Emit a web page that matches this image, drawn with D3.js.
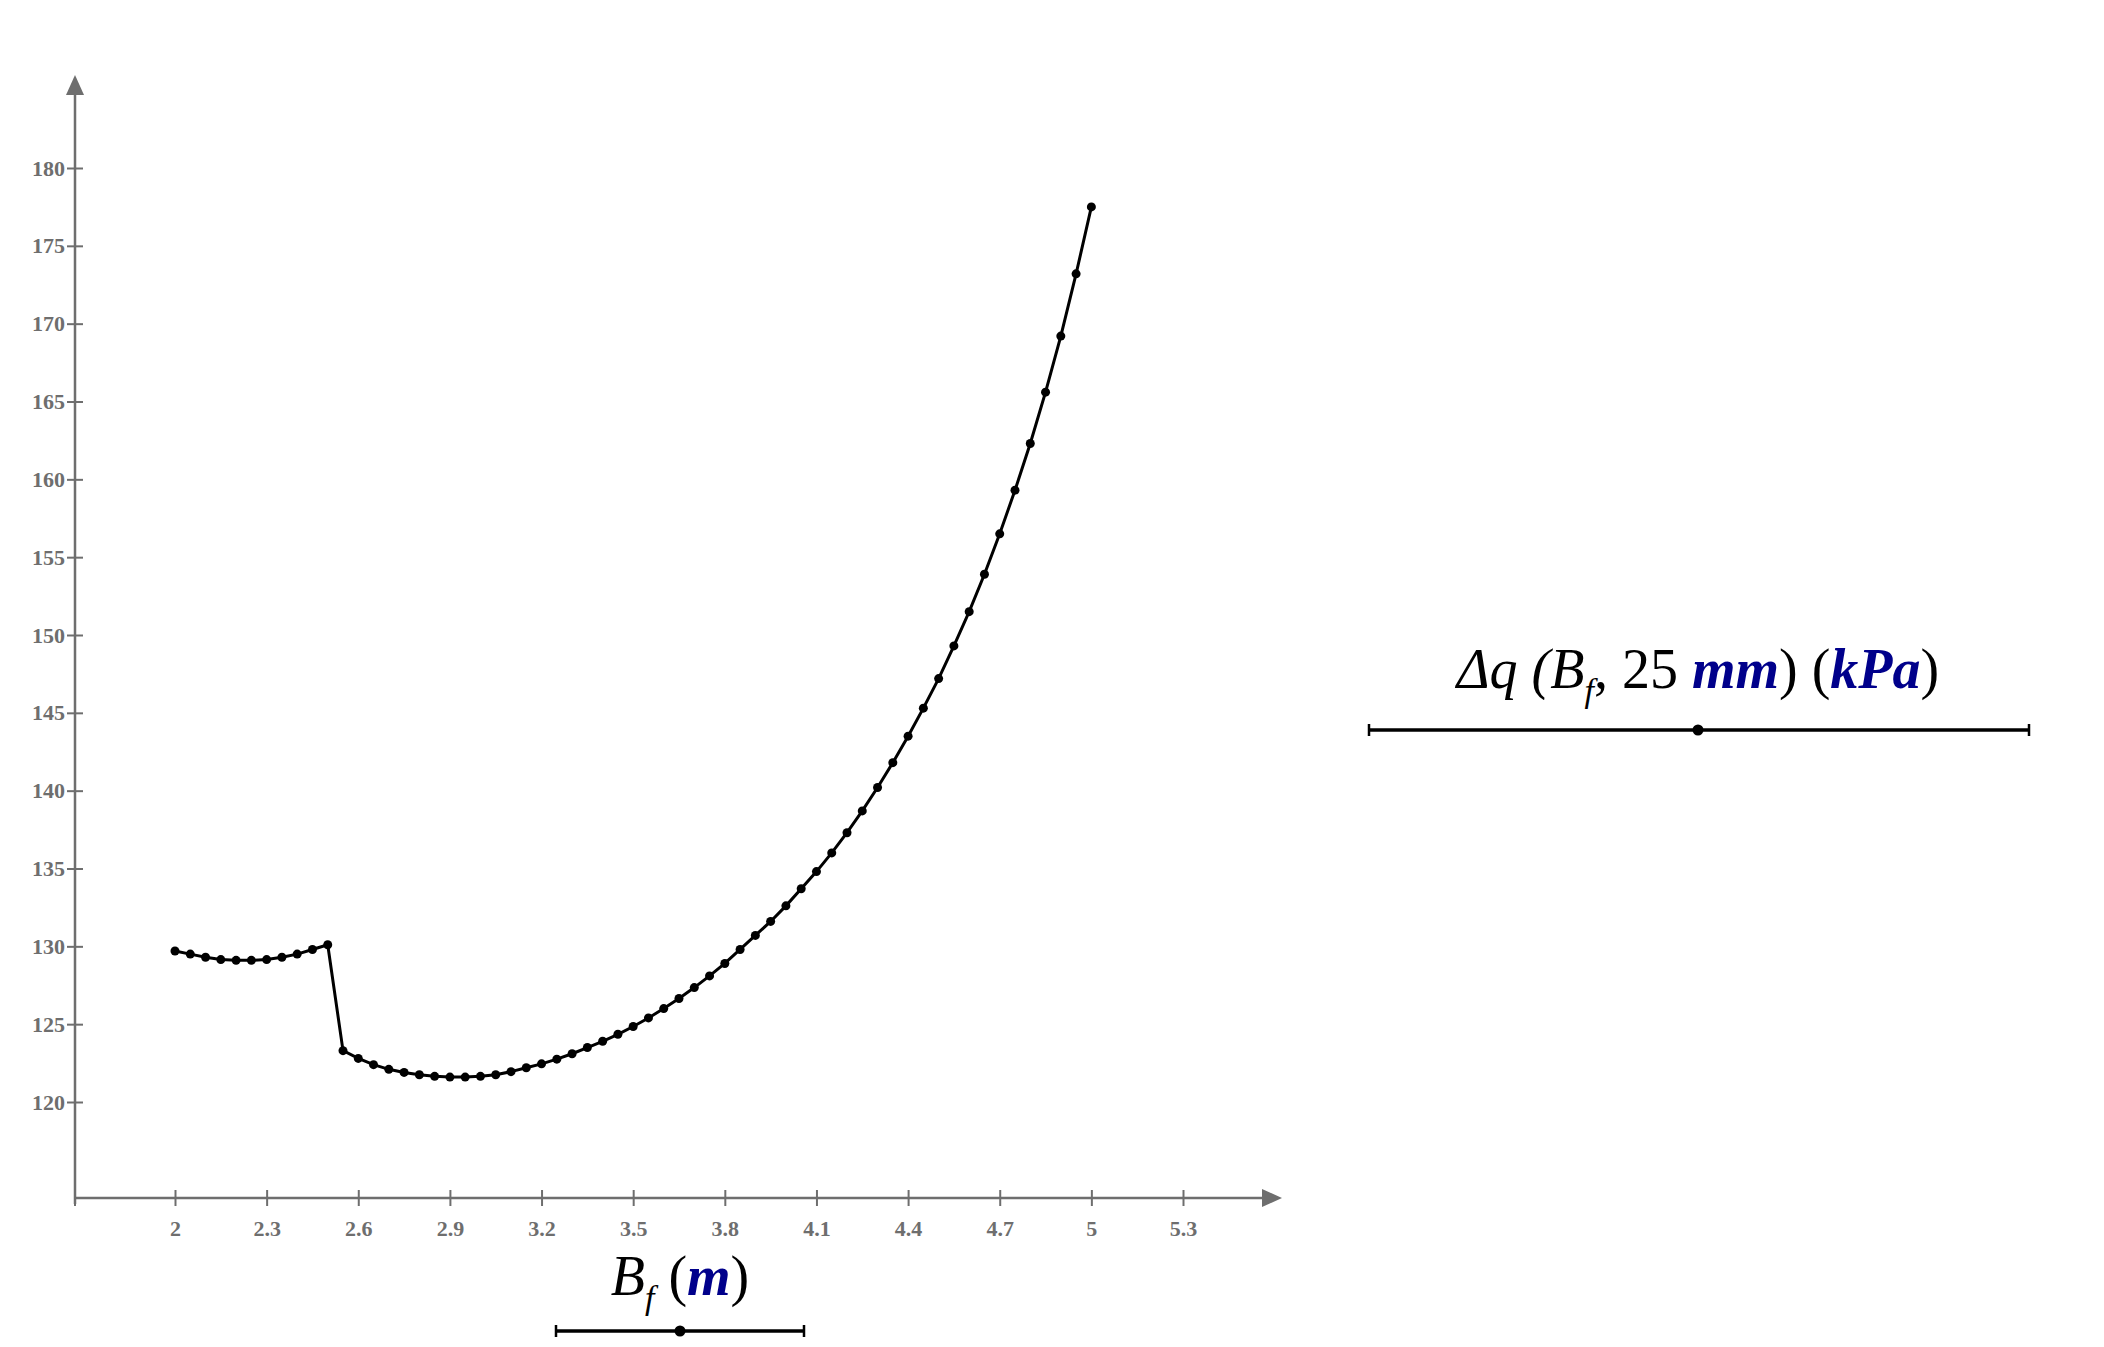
<!DOCTYPE html><html><head><meta charset="utf-8">
<script src="https://cdn.jsdelivr.net/npm/d3@7"></script>
<style>body{margin:0;background:#fff}</style></head><body>
<svg id="c" width="2104" height="1347"></svg>
<script>
const xs = [2,2.05,2.1,2.15,2.2,2.25,2.3,2.35,2.4,2.45,2.5,2.55,2.6,2.65,2.7,2.75,2.8,2.85,2.9,2.95,3,3.05,3.1,3.15,3.2,3.25,3.3,3.35,3.4,3.45,3.5,3.55,3.6,3.65,3.7,3.75,3.8,3.85,3.9,3.95,4,4.05,4.1,4.15,4.2,4.25,4.3,4.35,4.4,4.45,4.5,4.55,4.6,4.65,4.7,4.75,4.8,4.85,4.9,4.95,5];
const ys = [129.7,129.5,129.3,129.15,129.1,129.1,129.15,129.3,129.5,129.8,130.1,123.3,122.8,122.4,122.1,121.9,121.75,121.65,121.6,121.6,121.65,121.75,121.95,122.2,122.45,122.75,123.1,123.5,123.9,124.35,124.85,125.4,126.0,126.65,127.35,128.1,128.9,129.8,130.7,131.6,132.6,133.7,134.8,136.0,137.3,138.7,140.2,141.8,143.5,145.3,147.2,149.3,151.5,153.9,156.5,159.3,162.3,165.6,169.2,173.2,177.5];
const xTicks = [2,2.3,2.6,2.9,3.2,3.5,3.8,4.1,4.4,4.7,5,5.3];
const yTicks = [120,125,130,135,140,145,150,155,160,165,170,175,180];
const svg = d3.select("#c");
const gray="#6e6e6e";
const x = d3.scaleLinear().domain([2,5.3]).range([175,1183]);
const y = d3.scaleLinear().domain([120,180]).range([1102,168]);
const X0=75, Y0=1198;
// axes lines
svg.append("line").attr("x1",X0).attr("x2",1270).attr("y1",Y0).attr("y2",Y0).attr("stroke",gray).attr("stroke-width",2.5);
svg.append("line").attr("x1",X0).attr("x2",X0).attr("y1",Y0+6).attr("y2",90).attr("stroke",gray).attr("stroke-width",2.5);
svg.append("path").attr("d",`M1282,${Y0} L1262,${Y0-9} L1262,${Y0+9}Z`).attr("fill",gray);
svg.append("path").attr("d",`M${X0},75 L${X0-9},95 L${X0+9},95Z`).attr("fill",gray);
svg.append("line").attr("x1",X0).attr("x2",X0).attr("y1",Y0).attr("y2",Y0+8).attr("stroke",gray).attr("stroke-width",2);
const ax = svg.append("g").attr("transform",`translate(0,${Y0})`).call(d3.axisBottom(x).tickValues(xTicks).tickSize(8).tickPadding(14).tickFormat(d=>String(d)));
ax.select(".domain").remove();
ax.selectAll("line").attr("stroke",gray).attr("stroke-width",2).attr("y1",-8);
ax.selectAll("text").attr("fill",gray).style("font","bold 22px 'Liberation Serif'");
const ay = svg.append("g").attr("transform",`translate(${X0},0)`).call(d3.axisLeft(y).tickValues(yTicks).tickSize(8).tickPadding(4));
ay.select(".domain").remove();
ay.selectAll("line").attr("stroke",gray).attr("stroke-width",2).attr("x2",-8).attr("x1",8);
ay.selectAll("text").attr("fill",gray).style("font","bold 22px 'Liberation Serif'").attr("x",-10);
// data
const pts = xs.map((v,i)=>[v,ys[i]]);
svg.append("path").datum(pts).attr("d",d3.line().x(d=>x(d[0])).y(d=>y(d[1]))).attr("fill","none").attr("stroke","#000").attr("stroke-width",3);
svg.selectAll("circle.p").data(pts).enter().append("circle").attr("cx",d=>x(d[0])).attr("cy",d=>y(d[1])).attr("r",4.5).attr("fill","#000");
// labels
const f="'Liberation Serif', serif";
const xl = svg.append("text").attr("x",680).attr("y",1295).attr("text-anchor","middle").style("font-family",f).style("font-size","56px");
xl.append("tspan").attr("font-style","italic").text("B");
xl.append("tspan").attr("font-style","italic").attr("font-size","34px").attr("dy",14).text("f");
xl.append("tspan").attr("dy",-14).text("  (");
xl.append("tspan").attr("font-style","italic").attr("font-weight","bold").attr("fill","#00008b").text("m");
xl.append("tspan").text(")");
function bar(x1,x2,yy,xd){
  svg.append("line").attr("x1",x1).attr("x2",x2).attr("y1",yy).attr("y2",yy).attr("stroke","#000").attr("stroke-width",3.5);
  [x1,x2].forEach(v=>svg.append("line").attr("x1",v).attr("x2",v).attr("y1",yy-6).attr("y2",yy+6).attr("stroke","#000").attr("stroke-width",2.5));
  svg.append("circle").attr("cx",xd).attr("cy",yy).attr("r",5.5).attr("fill","#000");
}
bar(556,804,1331,680);
const yl = svg.append("text").attr("x",1698).attr("y",688).attr("text-anchor","middle").style("font-family",f).style("font-size","56px");
yl.append("tspan").attr("font-style","italic").text("Δq (B");
yl.append("tspan").attr("font-style","italic").attr("font-size","34px").attr("dy",14).text("f");
yl.append("tspan").attr("dy",-14).text(", 25 ");
yl.append("tspan").attr("font-style","italic").attr("font-weight","bold").attr("fill","#00008b").text("mm");
yl.append("tspan").text(")  (");
yl.append("tspan").attr("font-style","italic").attr("font-weight","bold").attr("fill","#00008b").text("kPa");
yl.append("tspan").text(")");
bar(1369,2029,730,1698);
</script></body></html>
